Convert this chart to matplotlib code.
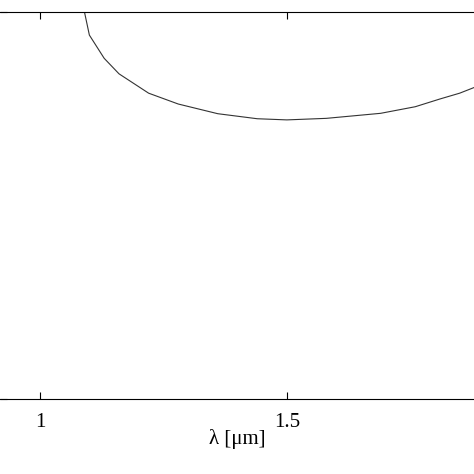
import matplotlib
matplotlib.use("Agg")
import matplotlib.pyplot as plt

lam = [0.92, 1.0, 1.09, 1.095, 1.10, 1.13, 1.16, 1.22, 1.28, 1.36, 1.44, 1.50, 1.58, 1.69, 1.76, 1.81, 1.85, 1.88]
val = [1.0, 1.0, 1.0, 0.97, 0.94, 0.88, 0.84, 0.79, 0.762, 0.737, 0.724, 0.721, 0.725, 0.738, 0.755, 0.775, 0.79, 0.805]
xticks = [1, 1.5]
xticklabels = ["1", "1.5"]

plt.rcParams['font.family'] = ['Liberation Serif', 'DejaVu Serif']
fig = plt.figure(figsize=(4.74, 4.74), dpi=100)
ax = fig.add_axes([0, 0.158, 1.0, 0.817])
ax.plot(lam, val, color='#333333', lw=0.8)
ax.set_xlim(0.919, 1.879)
ax.set_ylim(0, 1)
ax.set_xticks(xticks)
ax.set_xticklabels(xticklabels, fontsize=15)
ax.set_yticks([0.0, 1.0])
ax.set_yticklabels([])
ax.tick_params(direction='in', top=True, length=5, pad=10)
ax.set_xlabel("λ [μm]", fontsize=15, labelpad=-2)
for s in ['left', 'right']:
    ax.spines[s].set_visible(False)
fig.savefig("out.png", dpi=100)
